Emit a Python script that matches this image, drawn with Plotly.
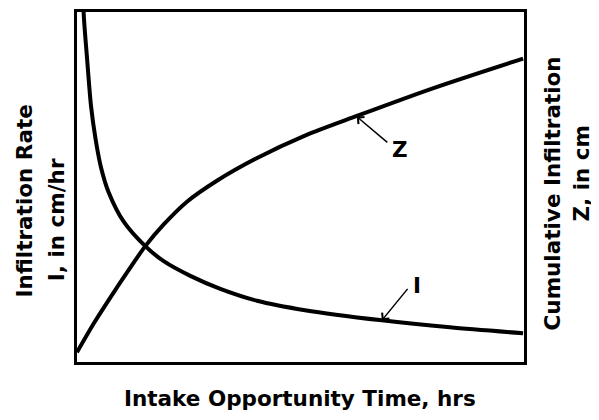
import plotly.graph_objects as go

# Time axis in % of full span (no ticks on the original)
time_I = [1.28, 1.50, 2.24, 3.13, 4.14, 5.37, 7.05, 10.45, 15.28, 19.4, 25.35, 32.06, 40.27, 51.0, 68.2, 83.4, 99.8]
rate_I = [110.7, 99.4, 86.9, 73.2, 63.8, 55.6, 48.6, 40.1, 33.1, 28.8, 24.6, 20.9, 17.5, 14.8, 11.9, 9.9, 8.2]

time_Z = [0.0, 3.74, 7.45, 11.2, 15.28, 19.4, 24.6, 31.3, 40.3, 51.0, 62.6, 79.6, 99.8]
cum_Z = [2.8, 11.0, 18.4, 25.6, 33.1, 39.3, 45.8, 51.8, 58.3, 64.7, 70.3, 78.2, 86.7]

FONT = "DejaVu Sans"
FS = 21.5

fig = go.Figure()
fig.add_trace(go.Scatter(x=time_I, y=rate_I, mode="lines", name="I",
                         line=dict(color="black", width=4, shape="spline", smoothing=0.8),
                         yaxis="y"))
fig.add_trace(go.Scatter(x=time_Z, y=cum_Z, mode="lines", name="Z",
                         line=dict(color="black", width=4, shape="spline", smoothing=0.8),
                         yaxis="y2"))

# page has an 8px body margin, so lay out in (reference - 8) pixel coordinates
OFF = 8
W, H = 599 - OFF, 420 - OFF
L, T = 77 - OFF, 9 - OFF
Rx, By = 524 - OFF, 362 - OFF
R, B = W - Rx, H - By
pw, ph = Rx - L, By - T


def px2paper(px, py):
    px, py = px - OFF, py - OFF
    return (px - L) / pw, (By - py) / ph


annotations = []
# arrows
annotations.append(dict(x=62.6, y=70.1, xref="x", yref="y", ax=32, ay=27, text="",
                        showarrow=True, arrowhead=4, arrowsize=1.2, arrowwidth=1.5,
                        arrowcolor="black", standoff=0))
annotations.append(dict(x=68.2, y=11.9, xref="x", yref="y", ax=27, ay=-33, text="",
                        showarrow=True, arrowhead=4, arrowsize=1.2, arrowwidth=1.5,
                        arrowcolor="black", standoff=0))
# labels Z and I
annotations.append(dict(x=72.3, y=60.7, xref="x", yref="y", text="Z", showarrow=False,
                        font=dict(family=FONT, size=FS, color="black", weight="bold")))
annotations.append(dict(x=76.1, y=21.8, xref="x", yref="y", text="I", showarrow=False,
                        font=dict(family=FONT, size=FS, color="black", weight="bold")))


def txt(text, px, py, angle=0):
    x, y = px2paper(px, py)
    annotations.append(dict(x=x, y=y, xref="paper", yref="paper", text=text,
                            showarrow=False, textangle=angle,
                            xanchor="center", yanchor="middle",
                            font=dict(family=FONT, size=FS, color="black", weight="bold")))


txt("Intake Opportunity Time, hrs", 300, 399)
txt("Infiltration Rate", 24, 200, -90)
txt("I, in cm/hr", 56, 219, -90)
txt("Cumulative Infiltration", 552, 192, -90)
txt("Z, in cm", 582, 172, -90)

axis_common = dict(range=[0, 100], showline=True, linecolor="black", linewidth=3,
                   showgrid=False, zeroline=False, showticklabels=False, ticks="")

fig.update_layout(
    width=W, height=H,
    margin=dict(l=L, r=R, t=T, b=B),
    paper_bgcolor="white", plot_bgcolor="white",
    showlegend=False,
    xaxis=dict(**axis_common, mirror=True),
    yaxis=dict(**axis_common),
    yaxis2=dict(**axis_common, overlaying="y", side="right"),
    annotations=annotations,
)

fig.write_html("out.html")
